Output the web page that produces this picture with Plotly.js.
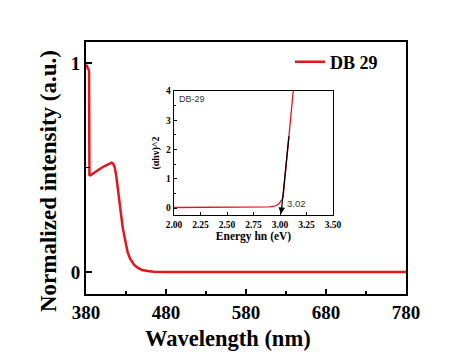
<!DOCTYPE html>
<html><head><meta charset="utf-8">
<script src="https://cdn.plot.ly/plotly-3.0.1.min.js"></script>
<style>html,body{margin:0;padding:0;background:#fff}#c{width:474px;height:355px}</style>
</head><body><div id="c"></div>
<script>
// Main spectrum
const wavelength = [380,381,382,383,383.8,384.3,385.5,390,395,400,405,409,412,414,416,418,420,423,426,429,432,435,440,445,450,457,465,480,580,680,780];
const intensity  = [0.985,0.99,0.975,0.97,0.96,0.465,0.463,0.475,0.488,0.50,0.51,0.518,0.523,0.518,0.50,0.455,0.385,0.30,0.21,0.145,0.095,0.065,0.035,0.02,0.01,0.005,0.001,0,0,0,0];
// Inset Tauc plot
const energy = [2.0,2.25,2.5,2.75,2.85,2.9,2.95,2.98,3.0,3.02,3.03,3.05,3.07,3.09,3.11,3.125,3.13];
const tauc   = [0.02,0.02,0.025,0.03,0.035,0.045,0.07,0.12,0.2,0.3,0.4,1.15,1.9,2.65,3.45,4.0,4.2];
const tangentX = [3.085, 3.01];
const tangentY = [2.5, -0.2];
const xTicks = [380,480,580,680,780];
const yTicks = [0,1];
const insetXTicks = [2.0,2.25,2.5,2.75,3.0,3.25,3.5];
const insetYTicks = [0,1,2,3,4];

const serif = 'Liberation Serif';
const red = '#e8141c';
const data = [
  {x: wavelength, y: intensity, type:'scatter', mode:'lines', name:'DB 29',
   line:{color:red, width:2.5}, xaxis:'x', yaxis:'y'},
  {x: energy, y: tauc, type:'scatter', mode:'lines', showlegend:false,
   line:{color:red, width:1.3}, xaxis:'x2', yaxis:'y2'}
];
const layout = {
  width:474, height:355,
  margin:{l:86, r:68, t:42, b:61},
  paper_bgcolor:'#fff', plot_bgcolor:'#fff',
  showlegend:true,
  legend:{x:0.6375, y:0.92, xanchor:'left', yanchor:'middle', bgcolor:'rgba(0,0,0,0)',
          font:{family:serif, size:18, color:'#000', weight:'bold'}},
  xaxis:{range:[380,780], tickvals:xTicks, ticktext:xTicks.map(String),
         ticks:'inside', ticklen:5, tickwidth:1.5, tickcolor:'#000',
         minor:{dtick:50, tick0:380, ticks:'inside', ticklen:3, tickwidth:1.5, tickcolor:'#000'},
         showline:true, mirror:true, linewidth:2, linecolor:'#000',
         showgrid:false, zeroline:false,
         tickfont:{family:serif, size:19, color:'#000', weight:'bold'}},
  yaxis:{range:[-0.105,1.1], tickvals:yTicks, ticktext:yTicks.map(String),
         ticks:'inside', ticklen:6, tickwidth:1.5, tickcolor:'#000',
         minor:{dtick:0.5, tick0:0, ticks:'inside', ticklen:4, tickwidth:1.5, tickcolor:'#000'},
         showline:true, mirror:true, linewidth:2, linecolor:'#000',
         showgrid:false, zeroline:false,
         tickfont:{family:serif, size:19, color:'#000', weight:'bold'}},
  xaxis2:{domain:[0.275,0.772], anchor:'y2', range:[2.0,3.5], tickvals:insetXTicks,
          ticktext:insetXTicks.map(v=>v.toFixed(2)),
          ticks:'inside', ticklen:3, tickwidth:1, tickcolor:'#000',
          showline:true, mirror:true, linewidth:1.3, linecolor:'#000',
          showgrid:false, zeroline:false,
          tickfont:{family:serif, size:9.5, color:'#000', weight:'bold'},
          title:{text:'Energy hn (eV)', font:{family:serif, size:11.5, color:'#000', weight:'bold'}, standoff:3}},
  yaxis2:{domain:[0.313,0.806], anchor:'x2', range:[-0.24,4], tickvals:insetYTicks,
          ticktext:insetYTicks.map(String),
          ticks:'inside', ticklen:3, tickwidth:1, tickcolor:'#000',
          minor:{dtick:0.5, tick0:0, ticks:'inside', ticklen:2, tickwidth:1, tickcolor:'#000'},
          showline:true, mirror:true, linewidth:1.3, linecolor:'#000',
          showgrid:false, zeroline:false,
          tickfont:{family:serif, size:9.5, color:'#000', weight:'bold'},
          title:{text:'(αhν)^2', font:{family:serif, size:10, color:'#000', weight:'bold'}, standoff:4}},
  annotations:[
    {xref:'paper', yref:'paper', x:(228-86)/320, y:(294-338)/252, text:'Wavelength (nm)', showarrow:false,
     xanchor:'center', yanchor:'middle', font:{family:serif, size:22.5, color:'#000', weight:'bold'}},
    {xref:'paper', yref:'paper', x:(48-86)/320, y:(294-181)/252, text:'Normalized intensity (a.u.)', showarrow:false,
     textangle:-90, xanchor:'center', yanchor:'middle', font:{family:serif, size:23, color:'#000', weight:'bold'}},
    {xref:'x2', yref:'y2', x:2.03, y:3.72, text:'DB-29', showarrow:false, xanchor:'left', yanchor:'middle',
     font:{family:'Liberation Sans', size:9, color:'#333'}},
    {xref:'x2', yref:'y2', x:3.16, y:0.15, text:'3.02', showarrow:false, xanchor:'center', yanchor:'middle',
     font:{family:'Liberation Sans', size:9.5, color:'#333'}},
    {xref:'x2', yref:'y2', axref:'x2', ayref:'y2', x:tangentX[1], y:tangentY[1], ax:tangentX[0], ay:tangentY[0],
     text:'', showarrow:true, arrowhead:2, arrowsize:1, arrowwidth:1.3, arrowcolor:'#000'}
  ]
};
Plotly.newPlot('c', data, layout, {displayModeBar:false, staticPlot:true});
</script></body></html>
